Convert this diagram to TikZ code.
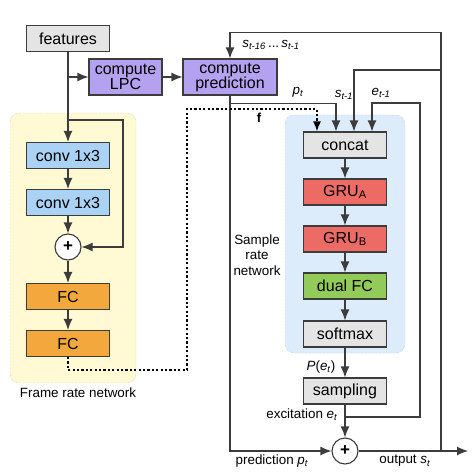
\documentclass[tikz,border=0pt]{standalone}
\usepackage{fontspec}
\setmainfont{Liberation Sans}
\usepackage{tikz}
\usetikzlibrary{arrows.meta}
\definecolor{linegray}{HTML}{3C3C3C}
\definecolor{boxgray}{HTML}{E4E4E4}
\definecolor{lpcpurple}{HTML}{B4A2F0}
\definecolor{convblue}{HTML}{A9D2F5}
\definecolor{grured}{HTML}{EC6B64}
\definecolor{fcgreen}{HTML}{93CB5A}
\definecolor{fcorange}{HTML}{F2A83C}
\definecolor{frameyellow}{HTML}{FFF9D4}
\definecolor{sampleblue}{HTML}{DDECFA}
\tikzstyle{block}=[draw=linegray,line width=1.1pt,minimum width=83pt,minimum height=26pt,inner sep=1pt,font=\fontsize{16}{17}\selectfont,align=center]
\tikzstyle{adder}=[circle,draw=linegray,line width=1.1pt,fill=white,minimum size=26pt,inner sep=0pt,font=\bfseries\fontsize{17}{17}\selectfont]
\tikzstyle{region}=[rounded corners=9pt,draw=gray!60,densely dotted]
\tikzstyle{edge} = [draw=linegray,line width=1.2pt,-{Latex[length=11pt,width=9pt]}]
\tikzstyle{fline} = [draw=black,line width=1.6pt,dash pattern=on 2.2pt off 2.2pt,-{Latex[length=10pt,width=8pt]}]
\tikzstyle{weight} = [font=\fontsize{13.4}{15.5}\selectfont,inner sep=1pt]
\newcommand{\sym}[2]{\textit{#1}\textsubscript{\textit{#2}}}

\begin{document}
\begin{tikzpicture}[x=1pt,y=-1pt]
	\useasboundingbox (0,0) rectangle (474,476);
	% First we draw the two network regions
	\path[region,fill=frameyellow] (10,113) rectangle (136,383);
	\path[region,fill=sampleblue] (285,115) rectangle (405,353);
	\node[weight] (framelbl) at (78,393) {Frame rate network};
	\node[weight,align=center] (samplelbl) at (257,255) {Sample\\rate\\network};

	% Then the blocks
	\foreach \pos/\name/\col/\txt in {{(68,38.5)/feat/boxgray/features}, {(68,155.5)/conv1/convblue/conv 1x3},
									{(68,202.5)/conv2/convblue/conv 1x3}, {(68,296.5)/fc1/fcorange/FC},
									{(68,343.5)/fc2/fcorange/FC}, {(345,145)/concat/boxgray/concat},
									{(345,192)/grua/grured/GRU\textsubscript{A}}, {(345,239)/grub/grured/GRU\textsubscript{B}},
									{(345,286)/dualfc/fcgreen/dual FC}, {(345,334)/softmax/boxgray/softmax},
									{(345,391)/samp/boxgray/sampling}}
	\node[block,fill=\col] (\name) at \pos {\txt};
	\node[block,fill=lpcpurple,minimum width=73pt,minimum height=36pt,font=\fontsize{16}{15}\selectfont] (lpc) at (125.5,77) {compute\\LPC};
	\node[block,fill=lpcpurple,minimum width=94pt,minimum height=36pt,font=\fontsize{16}{15}\selectfont] (pred) at (230,77) {compute\\prediction};
	\node[adder] (add1) at (68,247) {+};
	\node[adder] (add2) at (345,451) {+};
	\coordinate (skip) at (68,120);
	\coordinate (fb) at (441,451);
	\coordinate (out) at (468,451);
	\coordinate (exc) at (345,417);

	% Connect blocks along the main paths
	\foreach \source/ \dest in {feat/conv1, conv1/conv2, conv2/add1, add1/fc1, fc1/fc2, lpc/pred,
								concat/grua, grua/grub, grub/dualfc, dualfc/softmax, softmax/samp, samp/add2, add2/out}
	\path[edge] (\source) -- (\dest);
	\path[edge] (feat.south |- lpc.west) -- (lpc.west);
	\path[edge] (skip) -- ++(55,0) |- (add1.east);

	% Feedback paths
	\path[edge] (fb) |- ([yshift=26pt]pred.north) -- (pred.north);
	\path[edge] (fb |- 0,70) -| ([xshift=9pt]concat.north);
	\path[edge] (pred.south) -- ++(0,8) -| ([xshift=-9pt]concat.north);
	\path[edge] (pred.south) |- (add2.west);
	\path[edge] (exc) -| (420,103) -| ([xshift=27pt]concat.north);

	% Frame features into the sample rate network
	\draw[fline] (fc2.south) -- ++(0,13) -| (187,109) -| ([xshift=-28pt]concat.north);

	% Signal labels
	\node[weight] (hist) at (271,45) {\sym{s}{t-16}\,...\,\sym{s}{t-1}};
	\foreach \pos/\name/\txt in {{(298,92)/plbl/\sym{p}{t}}, {(344,95)/slbl/\sym{s}{t-1}}, {(381,93)/elbl/\sym{e}{t-1}},
								{(321,367)/pelbl/\textit{P}(\sym{e}{t})}, {(302,415)/exclbl/excitation \sym{e}{t}},
								{(272,461)/predlbl/prediction \sym{p}{t}}, {(405,461)/outlbl/output \sym{s}{t}}}
	\node[weight] (\name) at \pos {\txt};
	\node[weight,font=\bfseries\fontsize{13}{14}\selectfont] (flbl) at (259,118) {f};
\end{tikzpicture}
\end{document}
